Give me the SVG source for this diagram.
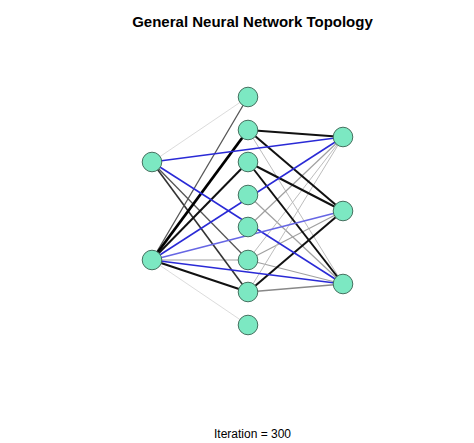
<svg xmlns="http://www.w3.org/2000/svg" width="474" height="443" viewBox="0 0 474 443">
<style>
.n{fill:#7ce8c2;stroke:#45705f;stroke-width:1}
.t{font-family:"Liberation Sans",Arial,sans-serif;text-anchor:middle;fill:#000}
line{fill:none}
.lg{stroke:#dcdcdc;stroke-width:1}
.g1{stroke:#bdbdbd;stroke-width:1}
.g2{stroke:#a0a0a0;stroke-width:1.2}
.g3{stroke:#888;stroke-width:1.4}
.d1{stroke:#555;stroke-width:1.3}
.d2{stroke:#333;stroke-width:1.6}
.k1{stroke:#111;stroke-width:2}
.k2{stroke:#000;stroke-width:2.8}
.b1{stroke:#2a2ad6;stroke-width:1.5}
.b2{stroke:#6666e4;stroke-width:1.5}
</style>
<rect width="474" height="443" fill="#fff"/>
<text class="t" x="252.5" y="27" font-size="15" font-weight="bold">General Neural Network Topology</text>
<g id="connectors">
<line class="lg" x1="152" y1="162" x2="248" y2="97"/>
<line class="lg" x1="152" y1="260" x2="248" y2="325"/>
<line class="g2" x1="152" y1="260" x2="248" y2="260"/>
<line class="g1" x1="248" y1="130" x2="343" y2="284"/>
<line class="g2" x1="248" y1="195" x2="343" y2="284"/>
<line class="g2" x1="248" y1="227" x2="343" y2="137"/>
<line class="g1" x1="248" y1="260" x2="343" y2="137"/>
<line class="g2" x1="248" y1="260" x2="343" y2="211"/>
<line class="g2" x1="248" y1="260" x2="343" y2="284"/>
<line class="g1" x1="248" y1="292" x2="343" y2="137"/>
<line class="g3" x1="248" y1="292" x2="343" y2="284"/>
<line class="d1" x1="152" y1="162" x2="248" y2="260"/>
<line class="d2" x1="152" y1="162" x2="248" y2="292"/>
<line class="d1" x1="152" y1="260" x2="248" y2="97"/>
<line class="k2" x1="152" y1="260" x2="248" y2="130"/>
<line class="k1" x1="152" y1="260" x2="248" y2="162"/>
<line class="k1" x1="152" y1="260" x2="248" y2="292"/>
<line class="k1" x1="248" y1="130" x2="343" y2="137"/>
<line class="k1" x1="248" y1="130" x2="343" y2="211"/>
<line class="k1" x1="248" y1="162" x2="343" y2="211"/>
<line class="k1" x1="248" y1="162" x2="343" y2="284"/>
<line class="k1" x1="248" y1="292" x2="343" y2="211"/>
<line class="b1" x1="152" y1="162" x2="343" y2="137"/>
<line class="b1" x1="152" y1="162" x2="343" y2="284"/>
<line class="b1" x1="152" y1="260" x2="343" y2="137"/>
<line class="b2" x1="152" y1="260" x2="343" y2="211"/>
<line class="b1" x1="152" y1="260" x2="343" y2="284"/>
</g>
<g id="I1"><circle class="n" cx="152" cy="162" r="9.8"/></g>
<g id="I2"><circle class="n" cx="152" cy="260" r="9.8"/></g>
<g id="H1"><circle class="n" cx="248" cy="97" r="9.8"/></g>
<g id="H2"><circle class="n" cx="248" cy="130" r="9.8"/></g>
<g id="H3"><circle class="n" cx="248" cy="162" r="9.8"/></g>
<g id="H4"><circle class="n" cx="248" cy="195" r="9.8"/></g>
<g id="H5"><circle class="n" cx="248" cy="227" r="9.8"/></g>
<g id="H6"><circle class="n" cx="248" cy="260" r="9.8"/></g>
<g id="H7"><circle class="n" cx="248" cy="292" r="9.8"/></g>
<g id="H8"><circle class="n" cx="248" cy="325" r="9.8"/></g>
<g id="O1"><circle class="n" cx="343" cy="137" r="9.8"/></g>
<g id="O2"><circle class="n" cx="343" cy="211" r="9.8"/></g>
<g id="O3"><circle class="n" cx="343" cy="284" r="9.8"/></g>
<text class="t" x="252.5" y="438" font-size="12">Iteration = 300</text>
</svg>
